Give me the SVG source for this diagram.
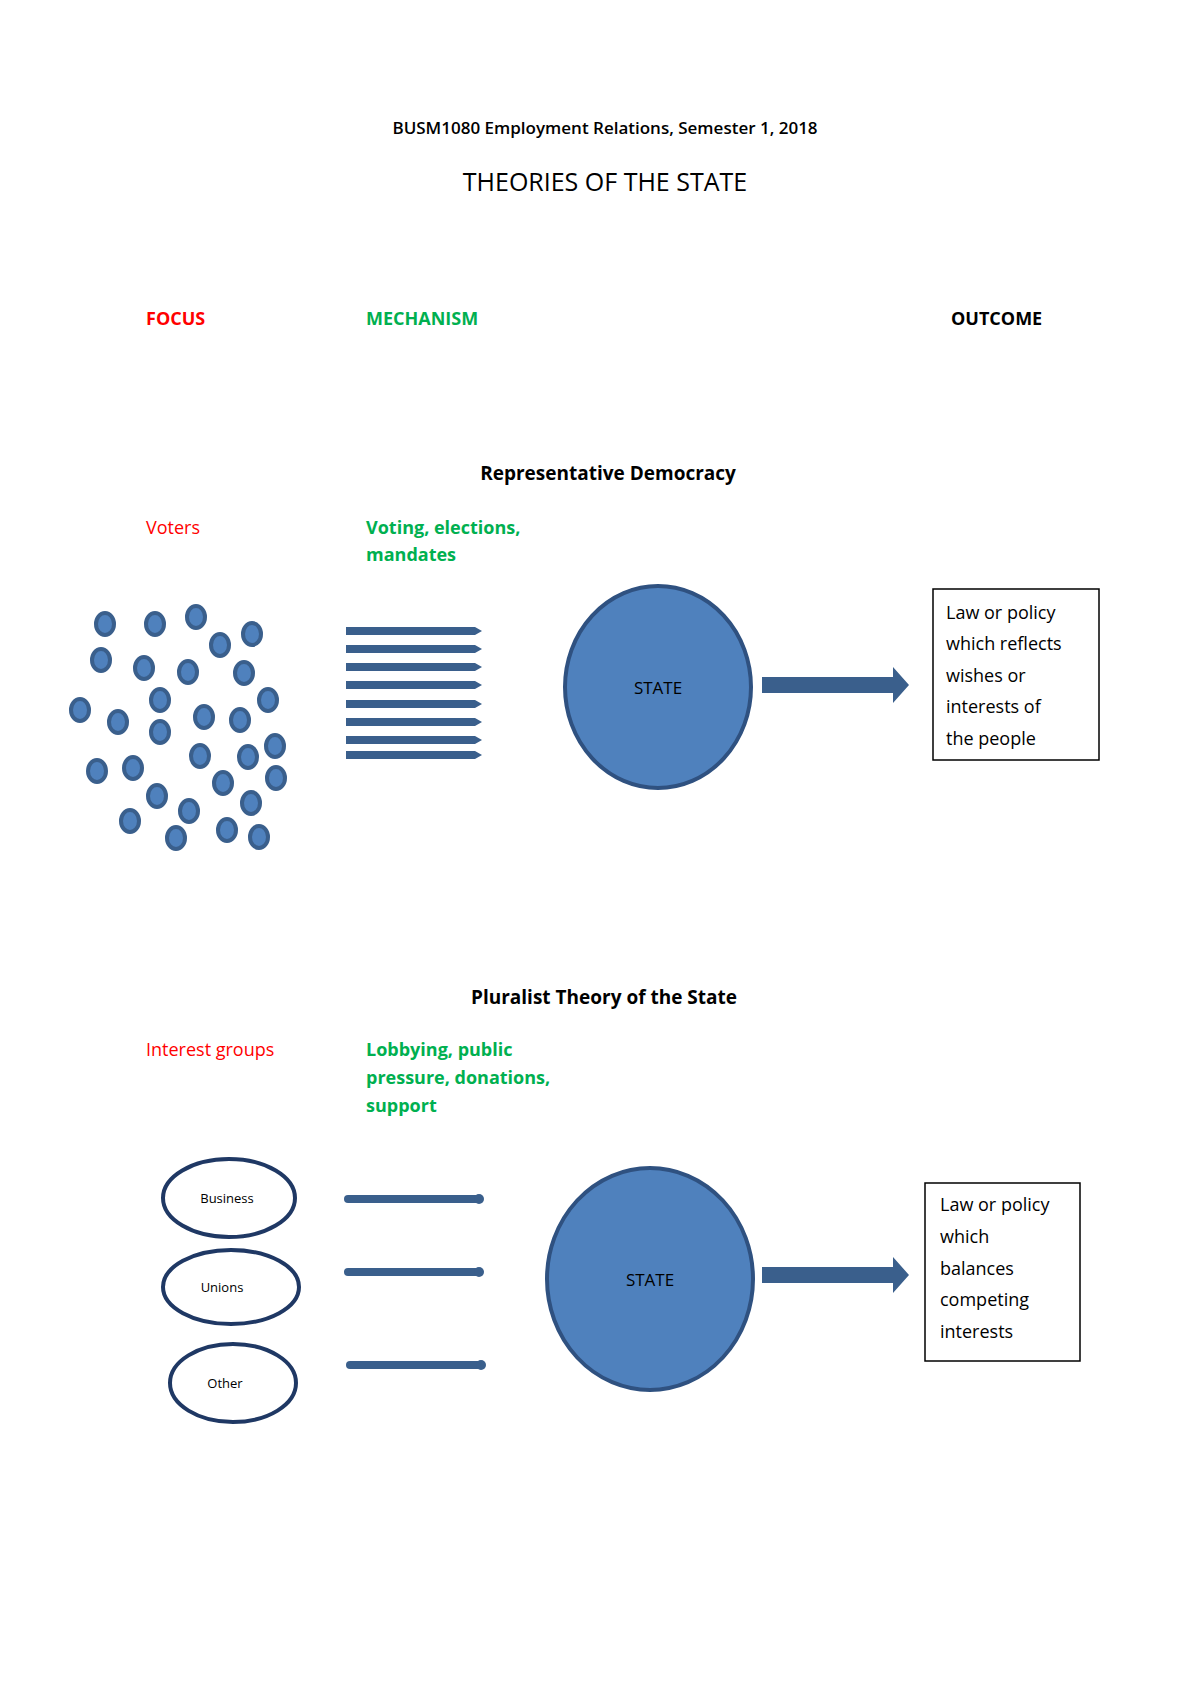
<svg xmlns="http://www.w3.org/2000/svg" width="1200" height="1698" viewBox="0 0 1200 1698">
<style>
text{font-family:"Open Sans","Liberation Sans",sans-serif;fill:#000}
.h{font-size:18px;font-weight:bold}
.red{fill:#FF0000}
.grn{fill:#00B050;font-weight:bold}
.bx{font-size:18px}
.dot{fill:#4F81BD;stroke:#3A5F8C;stroke-width:4}
.state{fill:#4F81BD;stroke:#2F5180;stroke-width:4}
.grp{fill:#fff;stroke:#1F3864;stroke-width:4}
.ln{stroke:#3A5F8C;stroke-width:8;stroke-linecap:round}
.box{fill:#fff;stroke:#000;stroke-width:1.5}
</style>
<defs>
<marker id="h" markerWidth="3" markerHeight="3" refX="1.5" refY="1.5" orient="auto" markerUnits="strokeWidth"><path d="M0,0 L1.8,0.6 L2,1.5 L1.8,2.4 L0,3 Z" fill="#3A5F8C"/></marker>
</defs>
<text x="605" y="134" text-anchor="middle" style="font-size:17px;font-weight:600">BUSM1080 Employment Relations, Semester 1, 2018</text>
<text x="605" y="191" text-anchor="middle" style="font-size:25px">THEORIES OF THE STATE</text>
<text x="146" y="325" class="h red">FOCUS</text>
<text x="366" y="325" class="h grn">MECHANISM</text>
<text x="951" y="325" class="h">OUTCOME</text>
<text x="608" y="480" text-anchor="middle" class="h" style="font-size:19px">Representative Democracy</text>
<text x="146" y="534" class="red" style="font-size:18px">Voters</text>
<text x="366" y="534" class="grn" style="font-size:18px">Voting, elections,</text>
<text x="366" y="561" class="grn" style="font-size:18px">mandates</text>
<g id="voters">
<ellipse class="dot" cx="105" cy="624" rx="9" ry="11"/><ellipse class="dot" cx="155" cy="624" rx="9" ry="11"/><ellipse class="dot" cx="196" cy="617" rx="9" ry="11"/><ellipse class="dot" cx="220" cy="645" rx="9" ry="11"/><ellipse class="dot" cx="252" cy="634" rx="9" ry="11"/><ellipse class="dot" cx="101" cy="660" rx="9" ry="11"/><ellipse class="dot" cx="144" cy="668" rx="9" ry="11"/><ellipse class="dot" cx="188" cy="672" rx="9" ry="11"/><ellipse class="dot" cx="244" cy="673" rx="9" ry="11"/><ellipse class="dot" cx="160" cy="700" rx="9" ry="11"/><ellipse class="dot" cx="268" cy="700" rx="9" ry="11"/><ellipse class="dot" cx="80" cy="710" rx="9" ry="11"/><ellipse class="dot" cx="118" cy="722" rx="9" ry="11"/><ellipse class="dot" cx="160" cy="732" rx="9" ry="11"/><ellipse class="dot" cx="204" cy="717" rx="9" ry="11"/><ellipse class="dot" cx="240" cy="720" rx="9" ry="11"/><ellipse class="dot" cx="275" cy="746" rx="9" ry="11"/><ellipse class="dot" cx="97" cy="771" rx="9" ry="11"/><ellipse class="dot" cx="133" cy="768" rx="9" ry="11"/><ellipse class="dot" cx="200" cy="756" rx="9" ry="11"/><ellipse class="dot" cx="248" cy="757" rx="9" ry="11"/><ellipse class="dot" cx="223" cy="783" rx="9" ry="11"/><ellipse class="dot" cx="276" cy="778" rx="9" ry="11"/><ellipse class="dot" cx="157" cy="796" rx="9" ry="11"/><ellipse class="dot" cx="251" cy="803" rx="9" ry="11"/><ellipse class="dot" cx="189" cy="811" rx="9" ry="11"/><ellipse class="dot" cx="130" cy="821" rx="9" ry="11"/><ellipse class="dot" cx="176" cy="838" rx="9" ry="11"/><ellipse class="dot" cx="227" cy="830" rx="9" ry="11"/><ellipse class="dot" cx="259" cy="837" rx="9" ry="11"/>
</g>
<g id="state1"><ellipse class="state" cx="658" cy="687" rx="93" ry="101"/><text x="658" y="694" text-anchor="middle" style="font-size:17px">STATE</text></g>
<g id="outcome1"><rect class="box" x="933" y="589" width="166" height="171"/>
<text x="946" y="619" class="bx">Law or policy</text><text x="946" y="650" class="bx">which reflects</text><text x="946" y="682" class="bx">wishes or</text><text x="946" y="713" class="bx">interests of</text><text x="946" y="745" class="bx">the people</text></g>
<text x="604" y="1004" text-anchor="middle" class="h" style="font-size:19px">Pluralist Theory of the State</text>
<text x="146" y="1056" class="red" style="font-size:18px">Interest groups</text>
<text x="366" y="1056" class="grn" style="font-size:18px">Lobbying, public</text>
<text x="366" y="1084" class="grn" style="font-size:18px">pressure, donations,</text>
<text x="366" y="1112" class="grn" style="font-size:18px">support</text>
<g id="business"><ellipse class="grp" cx="229" cy="1198" rx="66" ry="39"/><text x="227" y="1203" text-anchor="middle" style="font-size:13px">Business</text></g>
<g id="unions"><ellipse class="grp" cx="231" cy="1287" rx="68" ry="37"/><text x="222" y="1292" text-anchor="middle" style="font-size:13px">Unions</text></g>
<g id="other"><ellipse class="grp" cx="233" cy="1383" rx="63" ry="39"/><text x="225" y="1388" text-anchor="middle" style="font-size:13px">Other</text></g>
<g id="state2"><ellipse class="state" cx="650" cy="1279" rx="103" ry="111"/><text x="650" y="1286" text-anchor="middle" style="font-size:17px">STATE</text></g>
<g id="outcome2"><rect class="box" x="925" y="1183" width="155" height="178"/>
<text x="940" y="1211" class="bx">Law or policy</text><text x="940" y="1243" class="bx">which</text><text x="940" y="1275" class="bx">balances</text><text x="940" y="1306" class="bx">competing</text><text x="940" y="1338" class="bx">interests</text></g>
<g id="connectors">
<g fill="#3A5F8C">
<path d="M346,627 H475 L482,631 L475,635 H346 Z"/><path d="M346,645 H475 L482,649 L475,653 H346 Z"/><path d="M346,663 H475 L482,667 L475,671 H346 Z"/><path d="M346,681 H475 L482,685 L475,689 H346 Z"/><path d="M346,700 H475 L482,704 L475,708 H346 Z"/><path d="M346,718 H475 L482,722 L475,726 H346 Z"/><path d="M346,736 H475 L482,740 L475,744 H346 Z"/><path d="M346,751 H475 L482,755 L475,759 H346 Z"/>
<path d="M762,677 H893 V667 L909,685 L893,703 V693 H762 Z"/>
<path d="M762,1267 H893 V1257 L909,1275 L893,1293 V1283 H762 Z"/>
</g>
<line class="ln" x1="348" y1="1199" x2="478" y2="1199"/><circle cx="479" cy="1199" r="5" fill="#3A5F8C"/>
<line class="ln" x1="348" y1="1272" x2="478" y2="1272"/><circle cx="479" cy="1272" r="5" fill="#3A5F8C"/>
<line class="ln" x1="350" y1="1365" x2="480" y2="1365"/><circle cx="481" cy="1365" r="5" fill="#3A5F8C"/>
</g>
</svg>
